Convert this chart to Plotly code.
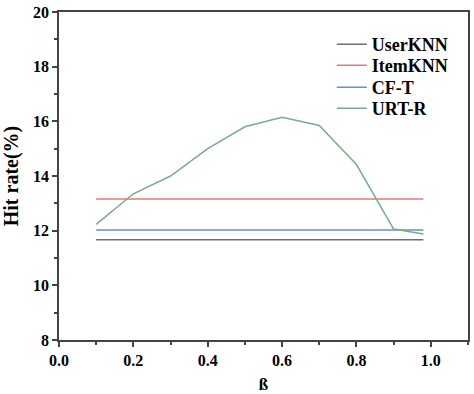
import plotly.graph_objects as go

beta = [0.1, 0.2, 0.3, 0.4, 0.5, 0.6, 0.7, 0.8, 0.9, 0.98]
userknn = [11.67] * 10
itemknn = [13.16] * 10
cft = [12.02] * 10
urtr = [12.23, 13.35, 14.0, 15.0, 15.8, 16.15, 15.85, 14.42, 12.06, 11.88]

series = [
    ("UserKNN", userknn, "#6f6f6f"),
    ("ItemKNN", itemknn, "#e07a7a"),
    ("CF-T", cft, "#6a8ec8"),
    ("URT-R", urtr, "#78ad86"),
]
legend_ids = ["legend", "legend2", "legend3", "legend4"]
legend_tops = [0.957, 0.893, 0.826, 0.762]

fig = go.Figure()
for (name, ys, color), lid in zip(series, legend_ids):
    fig.add_trace(go.Scatter(x=beta, y=ys, mode="lines", name="<b>" + name + "</b>",
                             line=dict(color=color, width=1.5), legend=lid))

axis_common = dict(showline=True, linecolor="#444", linewidth=1.5, mirror=True,
                   ticks="outside", ticklen=5, tickwidth=1.5, tickcolor="#444",
                   showgrid=False, zeroline=False, automargin=False,
                   tickfont=dict(family="Liberation Serif", size=16, color="black"))

legend_style = dict(x=0.667, xanchor="left", yanchor="top", bgcolor="rgba(0,0,0,0)",
                    font=dict(family="Liberation Serif", size=18, color="black"))

fig.update_layout(
    width=474, height=394,
    margin=dict(l=59, r=6, t=12, b=54),
    paper_bgcolor="white", plot_bgcolor="white",
    font=dict(family="Liberation Serif", size=14, color="black"),
    showlegend=True,
    xaxis=dict(range=[0, 1.1], tickvals=[0, 0.2, 0.4, 0.6, 0.8, 1.0],
               ticktext=["<b>0.0</b>", "<b>0.2</b>", "<b>0.4</b>", "<b>0.6</b>", "<b>0.8</b>", "<b>1.0</b>"],
               minor=dict(tickvals=[0.1, 0.3, 0.5, 0.7, 0.9, 1.1], ticks="outside", ticklen=3,
                          tickcolor="#444", tickwidth=1.5),
               title=dict(text="<b>ß</b>", font=dict(family="Liberation Serif", size=17), standoff=14),
               **axis_common),
    yaxis=dict(range=[8, 20], tickvals=[8, 10, 12, 14, 16, 18, 20],
               ticktext=["<b>%d</b>" % v for v in [8, 10, 12, 14, 16, 18, 20]],
               minor=dict(tickvals=[9, 11, 13, 15, 17, 19], ticks="outside", ticklen=3,
                          tickcolor="#444", tickwidth=1.5),
               title=dict(text="<b>Hit rate(%)</b>", font=dict(family="Liberation Serif", size=20), standoff=12),
               **axis_common),
)
for lid, top in zip(legend_ids, legend_tops):
    fig.update_layout({lid: dict(y=top, **legend_style)})

fig.write_html("out.html", config={"displayModeBar": False},
               post_script="document.body.style.margin='0';")
